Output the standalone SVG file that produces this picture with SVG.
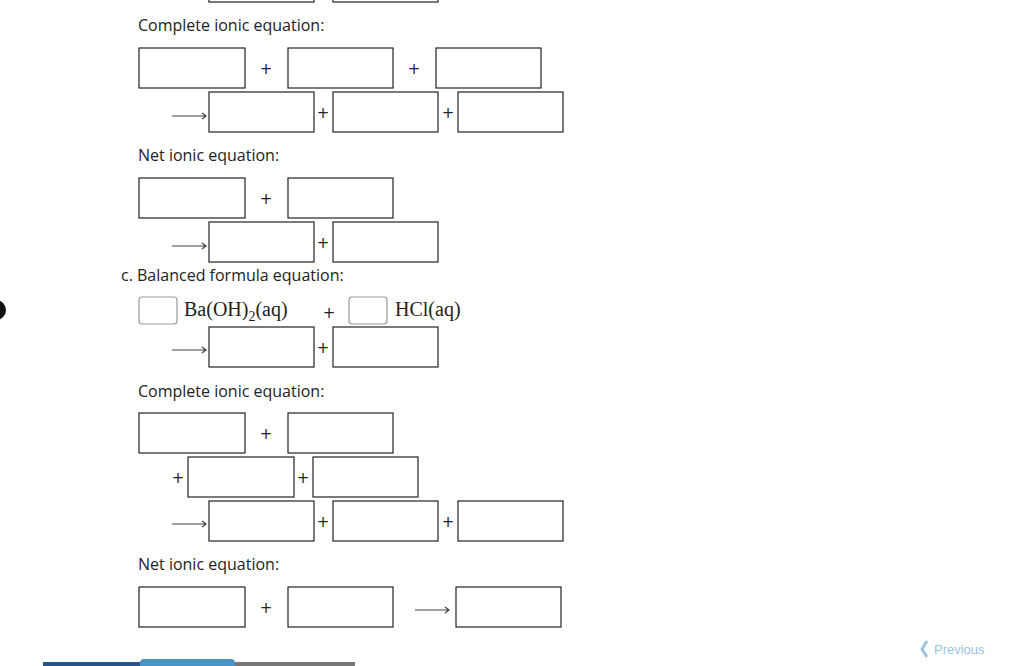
<svg xmlns="http://www.w3.org/2000/svg" width="1024" height="666" viewBox="0 0 1024 666">
<style>
.b{fill:#fff;stroke:#222;stroke-width:1.2}
.s{fill:#fff;stroke:#999;stroke-width:1.2}
.t{font-family:"Open Sans","Noto Sans",sans-serif;font-size:16px;fill:#222}
.p{font-family:"DejaVu Sans",sans-serif;font-size:15px;fill:#222;text-anchor:middle}
.m{font-family:"Liberation Serif",serif;font-size:20px;fill:#222}
.a{stroke:#444;stroke-width:1.2;fill:none}
</style>
<defs><g id="arr"><path class="a" d="M0 0H34M30 -3L34 0L30 3"/></g></defs>
<rect width="1024" height="666" fill="#fff"/>
<circle cx="-4" cy="310" r="10" fill="#111"/>
<g id="top"><rect class="b" x="209" y="-40" width="105" height="42"/><rect class="b" x="333" y="-40" width="105" height="42"/></g>
<text class="t" x="138" y="31">Complete ionic equation:</text>
<g id="ci1">
<rect class="b" x="139" y="48" width="106" height="40"/><text class="p" x="266" y="74">+</text>
<rect class="b" x="288" y="48" width="105" height="40"/><text class="p" x="414" y="74">+</text>
<rect class="b" x="436" y="48" width="105" height="40"/>
<use href="#arr" x="172" y="116"/>
<rect class="b" x="209" y="92" width="105" height="40"/><text class="p" x="323" y="118">+</text>
<rect class="b" x="333" y="92" width="105" height="40"/><text class="p" x="448" y="118">+</text>
<rect class="b" x="458" y="92" width="105" height="40"/>
</g>
<text class="t" x="138" y="161">Net ionic equation:</text>
<g id="ni1">
<rect class="b" x="139" y="178" width="106" height="40"/><text class="p" x="266" y="204">+</text>
<rect class="b" x="288" y="178" width="105" height="40"/>
<use href="#arr" x="172" y="246"/>
<rect class="b" x="209" y="222" width="105" height="40"/><text class="p" x="323" y="248">+</text>
<rect class="b" x="333" y="222" width="105" height="40"/>
</g>
<text class="t" x="121" y="281">c. Balanced formula equation:</text>
<g id="bf">
<rect class="s" x="139" y="297" width="38" height="27" rx="3"/>
<text class="m" x="184" y="316">Ba(OH)<tspan font-size="14" dy="5">2</tspan><tspan dy="-5">(aq)</tspan></text>
<text class="p" x="329" y="318">+</text>
<rect class="s" x="349" y="297" width="38" height="27" rx="3"/>
<text class="m" x="395" y="316">HCl(aq)</text>
<use href="#arr" x="172" y="350"/>
<rect class="b" x="209" y="327" width="105" height="40"/><text class="p" x="323" y="353">+</text>
<rect class="b" x="333" y="327" width="105" height="40"/>
</g>
<text class="t" x="138" y="397">Complete ionic equation:</text>
<g id="ci2">
<rect class="b" x="139" y="413" width="106" height="40"/><text class="p" x="266" y="439">+</text>
<rect class="b" x="288" y="413" width="105" height="40"/>
<text class="p" x="178" y="483">+</text>
<rect class="b" x="188" y="457" width="106" height="40"/><text class="p" x="303" y="483">+</text>
<rect class="b" x="313" y="457" width="105" height="40"/>
<use href="#arr" x="172" y="524"/>
<rect class="b" x="209" y="501" width="105" height="40"/><text class="p" x="323" y="527">+</text>
<rect class="b" x="333" y="501" width="105" height="40"/><text class="p" x="448" y="527">+</text>
<rect class="b" x="458" y="501" width="105" height="40"/>
</g>
<text class="t" x="138" y="570">Net ionic equation:</text>
<g id="ni2">
<rect class="b" x="139" y="587" width="106" height="40"/><text class="p" x="266" y="613">+</text>
<rect class="b" x="288" y="587" width="105" height="40"/>
<use href="#arr" x="415" y="610"/>
<rect class="b" x="456" y="587" width="105" height="40"/>
</g>
<path d="M927 641L922 649L927 657" stroke="#9cc3e0" stroke-width="3" fill="none"/>
<text x="934" y="654" font-family="Liberation Sans,sans-serif" font-size="13" fill="#9cc3e0">Previous</text>
<rect x="43" y="662" width="312" height="8" fill="#777"/>
<rect x="43" y="662" width="100" height="8" fill="#24588c"/>
<rect x="140" y="659" width="95" height="12" rx="4" fill="#4c93c6"/>
</svg>
